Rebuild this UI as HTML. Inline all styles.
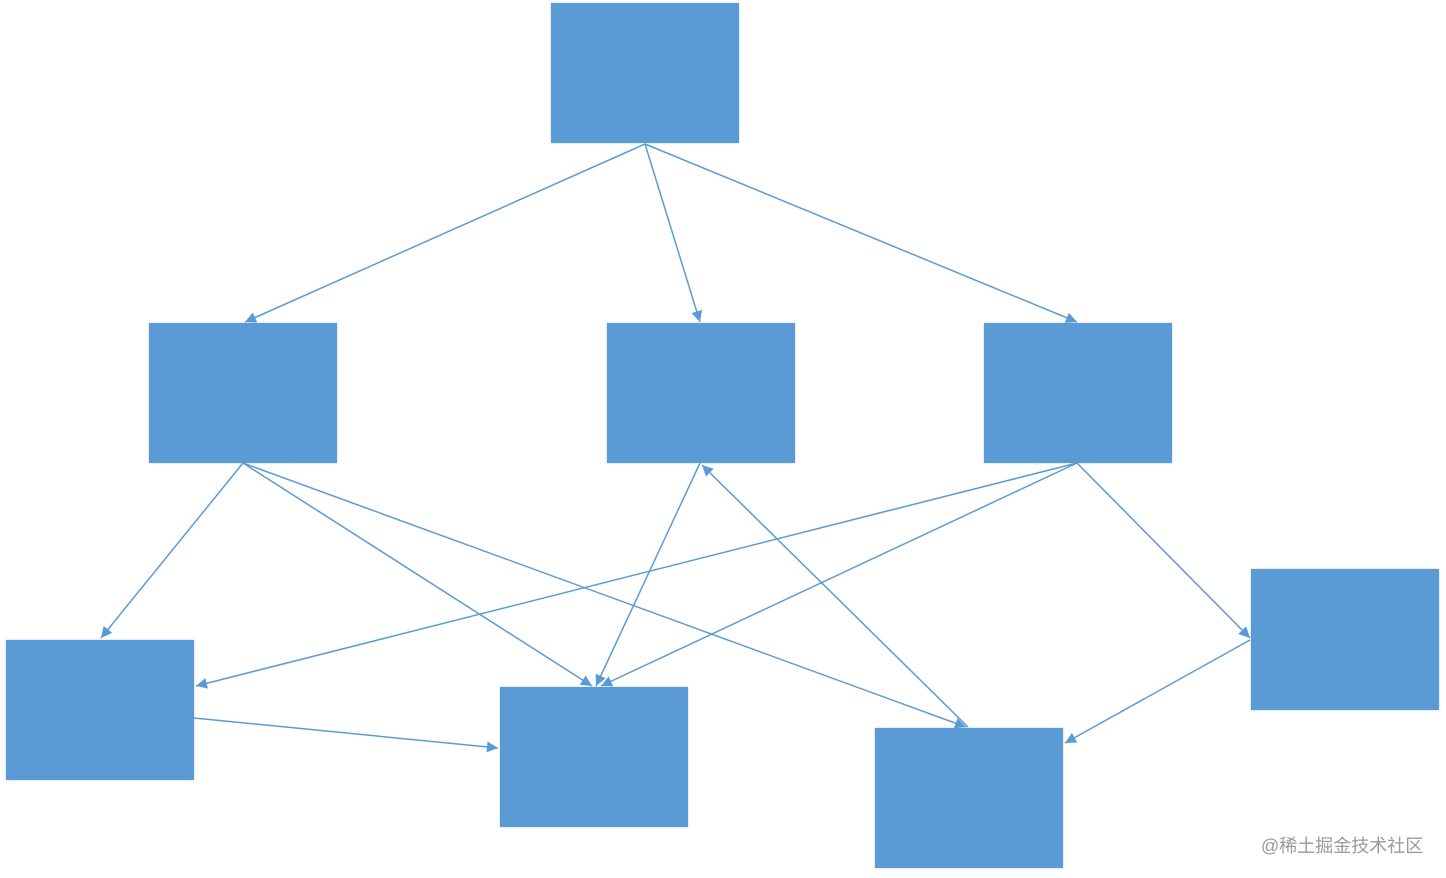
<!DOCTYPE html>
<html><head><meta charset="utf-8"><style>
html,body{margin:0;padding:0;background:#fff;width:1446px;height:878px;overflow:hidden}
.b{position:absolute;width:188px;height:140px;background:#5b9bd5;box-shadow:0 0 2px #bcd}
.w{position:absolute;left:1261px;top:832px;font:18px "Liberation Sans","Noto Sans CJK SC",sans-serif;color:#9a9a9a}
</style></head><body>
<div class="b" style="left:551px;top:3px"></div>
<div class="b" style="left:149px;top:323px"></div>
<div class="b" style="left:607px;top:323px"></div>
<div class="b" style="left:984px;top:323px"></div>
<div class="b" style="left:6px;top:640px"></div>
<div class="b" style="left:500px;top:687px"></div>
<div class="b" style="left:875px;top:728px"></div>
<div class="b" style="left:1251px;top:569px;height:141px"></div>
<svg width="1446" height="878" style="position:absolute;left:0;top:0">
<defs><marker id="a" viewBox="0 0 10 10" refX="10" refY="5" markerWidth="12" markerHeight="11" markerUnits="userSpaceOnUse" orient="auto"><path d="M0,0L10,5L0,10z" fill="#5b9bd5"/></marker></defs>
<g stroke="#5b9bd5" stroke-width="1.5" fill="none" marker-end="url(#a)">
<line x1="645" y1="144" x2="245" y2="322"/>
<line x1="645" y1="144" x2="700" y2="322"/>
<line x1="645" y1="144" x2="1077" y2="322"/>
<line x1="243" y1="463" x2="101" y2="638"/>
<line x1="243" y1="463" x2="592" y2="686"/>
<line x1="243" y1="463" x2="966" y2="727"/>
<line x1="700" y1="463" x2="596" y2="686"/>
<line x1="1077" y1="463" x2="196" y2="686"/>
<line x1="1077" y1="463" x2="601" y2="686"/>
<line x1="1077" y1="463" x2="1250" y2="638"/>
<line x1="1250" y1="640" x2="1065" y2="743"/>
<line x1="194" y1="718" x2="498" y2="748"/>
<line x1="968" y1="727" x2="702" y2="465"/>
</g></svg>
<div class="w">@稀土掘金技术社区</div>
</body></html>
